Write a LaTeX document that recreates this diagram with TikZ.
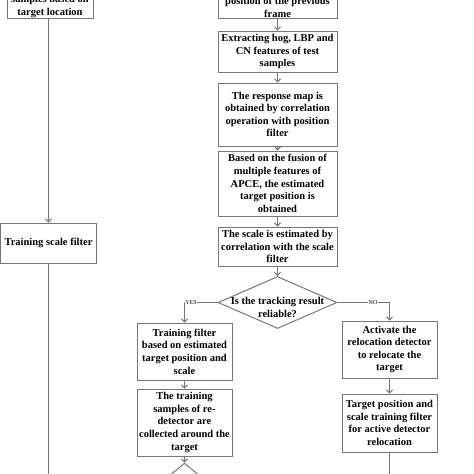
\documentclass[tikz,border=0pt]{standalone}
\usepackage{fontspec}
\setmainfont{Liberation Serif}
\usetikzlibrary{arrows.meta,shapes.geometric}
\definecolor{ln}{RGB}{118,118,118}
\begin{document}
\begin{tikzpicture}[x=1pt,y=-1pt,
  box/.style={draw=ln, line width=1pt, fill=white, align=center,
    font=\bfseries\fontsize{10.5}{12.6}\selectfont, inner sep=1pt},
  wbox/.style={box, minimum width=119pt},
  sbox/.style={box, minimum width=95pt},
  dia/.style={draw=ln, line width=1pt, diamond, inner sep=0pt},
  conn/.style={draw=ln, line width=1pt},
  arr/.style={conn, -{Straight Barb[length=3pt,width=6pt]}},
  yn/.style={fill=white, inner sep=0.6pt, font=\fontsize{6}{7}\selectfont}]
\clip (0,0) rectangle (474,474);
% left column
\node[box, minimum width=86pt, anchor=south] (L1) at (50,19) {samples based on\\target location};
\node[box, minimum width=96pt, minimum height=40pt] (L2) at (48.5,243) {Training scale filter};
\coordinate (Lend) at (48.5,480);
% middle column
\node[wbox, anchor=south] (M1) at (277.5,19) {position of the previous\\frame};
\node[wbox, minimum height=41pt] (M2) at (277.5,51.5) {Extracting hog, LBP and\\CN features of test\\samples};
\node[wbox, minimum height=63pt] (M3) at (277.5,114.5) {The response map is\\obtained by correlation\\operation with position\\filter};
\node[wbox, minimum height=65pt] (M4) at (277.5,183.5) {Based on the fusion of\\multiple features of\\APCE, the estimated\\target position is\\obtained};
\node[wbox, minimum height=39pt] (M5) at (277.5,246.5) {The scale is estimated by\\correlation with the scale\\filter};
\node[dia, minimum width=119pt, minimum height=52pt] (D) at (277.5,302.5) {};
\node[align=center, font=\bfseries\fontsize{10.5}{12.6}\selectfont, inner sep=0pt] (Dt) at (277.5,307.5) {Is the tracking result\\reliable?};
% left sub column
\node[sbox, minimum height=57pt] (A1) at (184.5,351.5) {Training filter\\based on estimated\\target position and\\scale};
\node[sbox, minimum height=67pt] (A2) at (184.5,422.5) {The training\\samples of re-\\detector are\\collected around the\\target};
\node[dia, minimum width=60pt, minimum height=50pt] (A3) at (184.5,488) {};
% right column
\node[sbox, minimum height=57pt] (B1) at (389.5,349.5) {Activate the\\relocation detector\\to relocate the\\target};
\node[sbox, minimum height=58pt] (B2) at (389.5,423) {Target position and\\scale training filter\\for active detector\\relocation};
\coordinate (Bend) at (389.5,480);
\coordinate (yc) at (184.5,302.5);
\coordinate (nc) at (389.5,302.5);
% connectors
\draw[arr] (L1.south -| L2.north) -- (L2.north);
\draw[conn] (L2.south) -- (Lend);
\draw[arr] (M1) -- (M2);
\draw[arr] (M2) -- (M3);
\draw[arr] (M3) -- (M4);
\draw[arr] (M4) -- (M5);
\draw[arr] (M5) -- (D.north);
\draw[arr] (D.west) -- (yc) -- (A1.north);
\draw[arr] (D.east) -- (nc) -- (B1.north);
\draw[arr] (A1) -- (A2);
\draw[arr] (A2) -- (A3.north);
\draw[arr] (B1) -- (B2);
\draw[conn] (B2.south) -- (Bend);
\node[yn] (yes) at (191,302.5) {YES};
\node[yn] (no) at (373,302.5) {NO};
\end{tikzpicture}
\end{document}
